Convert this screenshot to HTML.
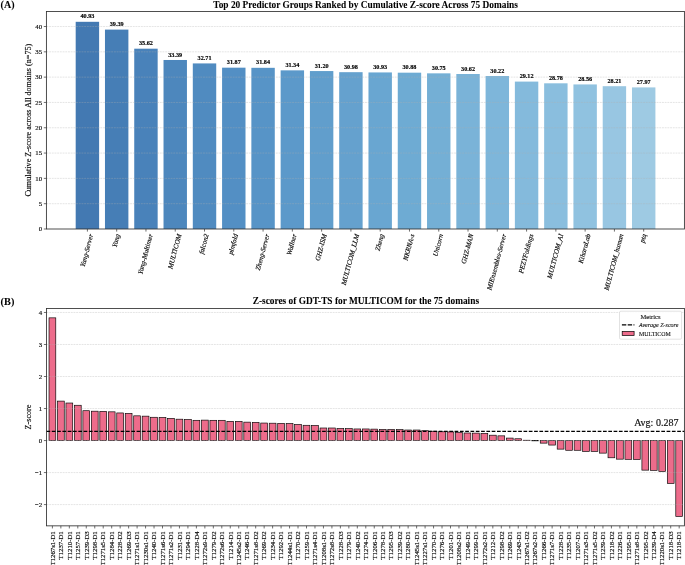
<!DOCTYPE html>
<html lang="en"><head><meta charset="utf-8"><title>Predictor Z-scores</title>
<style>html,body{margin:0;padding:0;background:#fff;}body{width:685px;height:565px;overflow:hidden;font-family:"Liberation Serif", serif;}svg{display:block;}</style>
</head><body>
<svg width="685" height="565" viewBox="0 0 685 565" font-family='"Liberation Serif", serif' fill="#000">
<rect width="685" height="565" fill="#fff"/>
<style>text{stroke:#000;stroke-width:0.16px;stroke-linejoin:round;paint-order:stroke fill}text.b{stroke-width:0.05px}text.l{stroke-width:0.1px}</style>
<g id="chartA">
<rect x="75.69" y="21.81" width="23.42" height="207.19" fill="#4379b2"/>
<rect x="104.97" y="29.61" width="23.42" height="199.39" fill="#467eb6"/>
<rect x="134.24" y="48.69" width="23.42" height="180.31" fill="#4982ba"/>
<rect x="163.52" y="59.98" width="23.42" height="169.02" fill="#4d87bd"/>
<rect x="192.80" y="63.42" width="23.42" height="165.58" fill="#508bc0"/>
<rect x="222.08" y="67.67" width="23.42" height="161.33" fill="#538fc4"/>
<rect x="251.36" y="67.82" width="23.42" height="161.18" fill="#5794c7"/>
<rect x="280.64" y="70.35" width="23.42" height="158.65" fill="#5c99ca"/>
<rect x="309.92" y="71.06" width="23.42" height="157.94" fill="#619ecc"/>
<rect x="339.20" y="72.18" width="23.42" height="156.82" fill="#65a1ce"/>
<rect x="368.48" y="72.43" width="23.42" height="156.57" fill="#69a6d1"/>
<rect x="397.76" y="72.68" width="23.42" height="156.32" fill="#6eabd3"/>
<rect x="427.04" y="73.34" width="23.42" height="155.66" fill="#74afd5"/>
<rect x="456.32" y="74.00" width="23.42" height="155.00" fill="#7ab3d8"/>
<rect x="485.59" y="76.02" width="23.42" height="152.98" fill="#7eb6da"/>
<rect x="514.87" y="81.59" width="23.42" height="147.41" fill="#84badc"/>
<rect x="544.15" y="83.31" width="23.42" height="145.69" fill="#8abede"/>
<rect x="573.43" y="84.43" width="23.42" height="144.57" fill="#90c2e0"/>
<rect x="602.71" y="86.20" width="23.42" height="142.80" fill="#98c6e2"/>
<rect x="631.99" y="87.41" width="23.42" height="141.59" fill="#9ecae3"/>
<line x1="46.4" x2="684.4" y1="203.69" y2="203.69" stroke="#b0b0b0" stroke-opacity="0.66" stroke-width="0.5" stroke-dasharray="1.9 0.8"/>
<line x1="46.4" x2="684.4" y1="178.38" y2="178.38" stroke="#b0b0b0" stroke-opacity="0.66" stroke-width="0.5" stroke-dasharray="1.9 0.8"/>
<line x1="46.4" x2="684.4" y1="153.07" y2="153.07" stroke="#b0b0b0" stroke-opacity="0.66" stroke-width="0.5" stroke-dasharray="1.9 0.8"/>
<line x1="46.4" x2="684.4" y1="127.76" y2="127.76" stroke="#b0b0b0" stroke-opacity="0.66" stroke-width="0.5" stroke-dasharray="1.9 0.8"/>
<line x1="46.4" x2="684.4" y1="102.45" y2="102.45" stroke="#b0b0b0" stroke-opacity="0.66" stroke-width="0.5" stroke-dasharray="1.9 0.8"/>
<line x1="46.4" x2="684.4" y1="77.14" y2="77.14" stroke="#b0b0b0" stroke-opacity="0.66" stroke-width="0.5" stroke-dasharray="1.9 0.8"/>
<line x1="46.4" x2="684.4" y1="51.83" y2="51.83" stroke="#b0b0b0" stroke-opacity="0.66" stroke-width="0.5" stroke-dasharray="1.9 0.8"/>
<line x1="46.4" x2="684.4" y1="26.52" y2="26.52" stroke="#b0b0b0" stroke-opacity="0.66" stroke-width="0.5" stroke-dasharray="1.9 0.8"/>
<text x="87.40" y="18.41" font-size="6.2" font-weight="bold" text-anchor="middle">40.93</text>
<text x="116.68" y="26.21" font-size="6.2" font-weight="bold" text-anchor="middle">39.39</text>
<text x="145.96" y="45.29" font-size="6.2" font-weight="bold" text-anchor="middle">35.62</text>
<text x="175.24" y="56.58" font-size="6.2" font-weight="bold" text-anchor="middle">33.39</text>
<text x="204.51" y="60.02" font-size="6.2" font-weight="bold" text-anchor="middle">32.71</text>
<text x="233.79" y="64.27" font-size="6.2" font-weight="bold" text-anchor="middle">31.87</text>
<text x="263.07" y="64.42" font-size="6.2" font-weight="bold" text-anchor="middle">31.84</text>
<text x="292.35" y="66.95" font-size="6.2" font-weight="bold" text-anchor="middle">31.34</text>
<text x="321.63" y="67.66" font-size="6.2" font-weight="bold" text-anchor="middle">31.20</text>
<text x="350.91" y="68.78" font-size="6.2" font-weight="bold" text-anchor="middle">30.98</text>
<text x="380.19" y="69.03" font-size="6.2" font-weight="bold" text-anchor="middle">30.93</text>
<text x="409.47" y="69.28" font-size="6.2" font-weight="bold" text-anchor="middle">30.88</text>
<text x="438.75" y="69.94" font-size="6.2" font-weight="bold" text-anchor="middle">30.75</text>
<text x="468.03" y="70.60" font-size="6.2" font-weight="bold" text-anchor="middle">30.62</text>
<text x="497.31" y="72.62" font-size="6.2" font-weight="bold" text-anchor="middle">30.22</text>
<text x="526.59" y="78.19" font-size="6.2" font-weight="bold" text-anchor="middle">29.12</text>
<text x="555.86" y="79.91" font-size="6.2" font-weight="bold" text-anchor="middle">28.78</text>
<text x="585.14" y="81.03" font-size="6.2" font-weight="bold" text-anchor="middle">28.56</text>
<text x="614.42" y="82.80" font-size="6.2" font-weight="bold" text-anchor="middle">28.21</text>
<text x="643.70" y="84.01" font-size="6.2" font-weight="bold" text-anchor="middle">27.97</text>
<rect x="46.4" y="11.45" width="638.00" height="217.55" fill="none" stroke="#303030" stroke-width="0.85"/>
<line x1="43.80" x2="46.4" y1="229.00" y2="229.00" stroke="#303030" stroke-width="0.7"/>
<text x="42.10" y="231.20" font-size="6.8" text-anchor="end" fill="#0d0d0d">0</text>
<line x1="43.80" x2="46.4" y1="203.69" y2="203.69" stroke="#303030" stroke-width="0.7"/>
<text x="42.10" y="205.89" font-size="6.8" text-anchor="end" fill="#0d0d0d">5</text>
<line x1="43.80" x2="46.4" y1="178.38" y2="178.38" stroke="#303030" stroke-width="0.7"/>
<text x="42.10" y="180.58" font-size="6.8" text-anchor="end" fill="#0d0d0d">10</text>
<line x1="43.80" x2="46.4" y1="153.07" y2="153.07" stroke="#303030" stroke-width="0.7"/>
<text x="42.10" y="155.27" font-size="6.8" text-anchor="end" fill="#0d0d0d">15</text>
<line x1="43.80" x2="46.4" y1="127.76" y2="127.76" stroke="#303030" stroke-width="0.7"/>
<text x="42.10" y="129.96" font-size="6.8" text-anchor="end" fill="#0d0d0d">20</text>
<line x1="43.80" x2="46.4" y1="102.45" y2="102.45" stroke="#303030" stroke-width="0.7"/>
<text x="42.10" y="104.65" font-size="6.8" text-anchor="end" fill="#0d0d0d">25</text>
<line x1="43.80" x2="46.4" y1="77.14" y2="77.14" stroke="#303030" stroke-width="0.7"/>
<text x="42.10" y="79.34" font-size="6.8" text-anchor="end" fill="#0d0d0d">30</text>
<line x1="43.80" x2="46.4" y1="51.83" y2="51.83" stroke="#303030" stroke-width="0.7"/>
<text x="42.10" y="54.03" font-size="6.8" text-anchor="end" fill="#0d0d0d">35</text>
<line x1="43.80" x2="46.4" y1="26.52" y2="26.52" stroke="#303030" stroke-width="0.7"/>
<text x="42.10" y="28.72" font-size="6.8" text-anchor="end" fill="#0d0d0d">40</text>
<line x1="87.40" x2="87.40" y1="229.0" y2="231.6" stroke="#303030" stroke-width="0.7"/>
<text transform="translate(87.40,250.56) rotate(-75)" y="1.59" font-size="6.9" font-style="italic" text-anchor="middle" fill="#0d0d0d">Yang-Server</text>
<line x1="116.68" x2="116.68" y1="229.0" y2="231.6" stroke="#303030" stroke-width="0.7"/>
<text transform="translate(116.68,240.75) rotate(-75)" y="1.59" font-size="6.9" font-style="italic" text-anchor="middle" fill="#0d0d0d">Yang</text>
<line x1="145.96" x2="145.96" y1="229.0" y2="231.6" stroke="#303030" stroke-width="0.7"/>
<text transform="translate(145.96,254.26) rotate(-75)" y="1.59" font-size="6.9" font-style="italic" text-anchor="middle" fill="#0d0d0d">Yang-Multimer</text>
<line x1="175.24" x2="175.24" y1="229.0" y2="231.6" stroke="#303030" stroke-width="0.7"/>
<text transform="translate(175.24,251.54) rotate(-75)" y="1.59" font-size="6.9" font-style="italic" text-anchor="middle" fill="#0d0d0d">MULTICOM</text>
<line x1="204.51" x2="204.51" y1="229.0" y2="231.6" stroke="#303030" stroke-width="0.7"/>
<text transform="translate(204.51,244.20) rotate(-75)" y="1.59" font-size="6.9" font-style="italic" text-anchor="middle" fill="#0d0d0d">falcon2</text>
<line x1="233.79" x2="233.79" y1="229.0" y2="231.6" stroke="#303030" stroke-width="0.7"/>
<text transform="translate(233.79,244.39) rotate(-75)" y="1.59" font-size="6.9" font-style="italic" text-anchor="middle" fill="#0d0d0d">plmfold</text>
<line x1="263.07" x2="263.07" y1="229.0" y2="231.6" stroke="#303030" stroke-width="0.7"/>
<text transform="translate(263.07,252.34) rotate(-75)" y="1.59" font-size="6.9" font-style="italic" text-anchor="middle" fill="#0d0d0d">Zheng-Server</text>
<line x1="292.35" x2="292.35" y1="229.0" y2="231.6" stroke="#303030" stroke-width="0.7"/>
<text transform="translate(292.35,244.63) rotate(-75)" y="1.59" font-size="6.9" font-style="italic" text-anchor="middle" fill="#0d0d0d">Wallner</text>
<line x1="321.63" x2="321.63" y1="229.0" y2="231.6" stroke="#303030" stroke-width="0.7"/>
<text transform="translate(321.63,247.53) rotate(-75)" y="1.59" font-size="6.9" font-style="italic" text-anchor="middle" fill="#0d0d0d">GHZ-ISM</text>
<line x1="350.91" x2="350.91" y1="229.0" y2="231.6" stroke="#303030" stroke-width="0.7"/>
<text transform="translate(350.91,259.69) rotate(-75)" y="1.59" font-size="6.9" font-style="italic" text-anchor="middle" fill="#0d0d0d">MULTICOM_LLM</text>
<line x1="380.19" x2="380.19" y1="229.0" y2="231.6" stroke="#303030" stroke-width="0.7"/>
<text transform="translate(380.19,242.53) rotate(-75)" y="1.59" font-size="6.9" font-style="italic" text-anchor="middle" fill="#0d0d0d">Zheng</text>
<line x1="409.47" x2="409.47" y1="229.0" y2="231.6" stroke="#303030" stroke-width="0.7"/>
<text transform="translate(409.47,247.35) rotate(-75)" y="1.59" font-size="6.9" font-style="italic" text-anchor="middle" fill="#0d0d0d">NKRNA-s</text>
<line x1="438.75" x2="438.75" y1="229.0" y2="231.6" stroke="#303030" stroke-width="0.7"/>
<text transform="translate(438.75,245.31) rotate(-75)" y="1.59" font-size="6.9" font-style="italic" text-anchor="middle" fill="#0d0d0d">Unicorn</text>
<line x1="468.03" x2="468.03" y1="229.0" y2="231.6" stroke="#303030" stroke-width="0.7"/>
<text transform="translate(468.03,249.01) rotate(-75)" y="1.59" font-size="6.9" font-style="italic" text-anchor="middle" fill="#0d0d0d">GHZ-MAN</text>
<line x1="497.31" x2="497.31" y1="229.0" y2="231.6" stroke="#303030" stroke-width="0.7"/>
<text transform="translate(497.31,262.15) rotate(-75)" y="1.59" font-size="6.9" font-style="italic" text-anchor="middle" fill="#0d0d0d">MIEnsembles-Server</text>
<line x1="526.59" x2="526.59" y1="229.0" y2="231.6" stroke="#303030" stroke-width="0.7"/>
<text transform="translate(526.59,253.83) rotate(-75)" y="1.59" font-size="6.9" font-style="italic" text-anchor="middle" fill="#0d0d0d">PEZYFoldings</text>
<line x1="555.86" x2="555.86" y1="229.0" y2="231.6" stroke="#303030" stroke-width="0.7"/>
<text transform="translate(555.86,256.35) rotate(-75)" y="1.59" font-size="6.9" font-style="italic" text-anchor="middle" fill="#0d0d0d">MULTICOM_AI</text>
<line x1="585.14" x2="585.14" y1="229.0" y2="231.6" stroke="#303030" stroke-width="0.7"/>
<text transform="translate(585.14,248.83) rotate(-75)" y="1.59" font-size="6.9" font-style="italic" text-anchor="middle" fill="#0d0d0d">KiharaLab</text>
<line x1="614.42" x2="614.42" y1="229.0" y2="231.6" stroke="#303030" stroke-width="0.7"/>
<text transform="translate(614.42,262.28) rotate(-75)" y="1.59" font-size="6.9" font-style="italic" text-anchor="middle" fill="#0d0d0d">MULTICOM_human</text>
<line x1="643.70" x2="643.70" y1="229.0" y2="231.6" stroke="#303030" stroke-width="0.7"/>
<text transform="translate(643.70,238.46) rotate(-75)" y="1.59" font-size="6.9" font-style="italic" text-anchor="middle" fill="#0d0d0d">ptq</text>
<text transform="translate(30.9,120.2) rotate(-90)" font-size="8.15" text-anchor="middle" fill="#0d0d0d">Cumulative Z-score across All domains (n=75)</text>
<text class="b" x="365.6" y="7.7" font-size="9.37" font-weight="bold" text-anchor="middle">Top 20 Predictor Groups Ranked by Cumulative Z-score Across 75 Domains</text>
<text class="b" x="0.6" y="7.6" font-size="10" font-weight="bold">(A)</text>
</g>
<g id="chartB">
<rect x="49.01" y="317.85" width="6.78" height="122.70" fill="#ed6c8b" stroke="#000" stroke-width="0.65"/>
<rect x="57.48" y="401.10" width="6.78" height="39.45" fill="#ed6c8b" stroke="#000" stroke-width="0.65"/>
<rect x="65.95" y="403.02" width="6.78" height="37.53" fill="#ed6c8b" stroke="#000" stroke-width="0.65"/>
<rect x="74.42" y="405.26" width="6.78" height="35.29" fill="#ed6c8b" stroke="#000" stroke-width="0.65"/>
<rect x="82.89" y="410.71" width="6.78" height="29.84" fill="#ed6c8b" stroke="#000" stroke-width="0.65"/>
<rect x="91.36" y="411.19" width="6.78" height="29.36" fill="#ed6c8b" stroke="#000" stroke-width="0.65"/>
<rect x="99.83" y="411.35" width="6.78" height="29.20" fill="#ed6c8b" stroke="#000" stroke-width="0.65"/>
<rect x="108.30" y="411.83" width="6.78" height="28.72" fill="#ed6c8b" stroke="#000" stroke-width="0.65"/>
<rect x="116.77" y="412.95" width="6.78" height="27.60" fill="#ed6c8b" stroke="#000" stroke-width="0.65"/>
<rect x="125.24" y="413.43" width="6.78" height="27.12" fill="#ed6c8b" stroke="#000" stroke-width="0.65"/>
<rect x="133.71" y="415.83" width="6.78" height="24.72" fill="#ed6c8b" stroke="#000" stroke-width="0.65"/>
<rect x="142.18" y="416.15" width="6.78" height="24.40" fill="#ed6c8b" stroke="#000" stroke-width="0.65"/>
<rect x="150.65" y="417.27" width="6.78" height="23.28" fill="#ed6c8b" stroke="#000" stroke-width="0.65"/>
<rect x="159.12" y="417.43" width="6.78" height="23.12" fill="#ed6c8b" stroke="#000" stroke-width="0.65"/>
<rect x="167.59" y="418.39" width="6.78" height="22.16" fill="#ed6c8b" stroke="#000" stroke-width="0.65"/>
<rect x="176.06" y="419.19" width="6.78" height="21.36" fill="#ed6c8b" stroke="#000" stroke-width="0.65"/>
<rect x="184.53" y="419.51" width="6.78" height="21.04" fill="#ed6c8b" stroke="#000" stroke-width="0.65"/>
<rect x="193.00" y="420.31" width="6.78" height="20.24" fill="#ed6c8b" stroke="#000" stroke-width="0.65"/>
<rect x="201.47" y="420.12" width="6.78" height="20.43" fill="#ed6c8b" stroke="#000" stroke-width="0.65"/>
<rect x="209.94" y="420.31" width="6.78" height="20.24" fill="#ed6c8b" stroke="#000" stroke-width="0.65"/>
<rect x="218.41" y="420.31" width="6.78" height="20.24" fill="#ed6c8b" stroke="#000" stroke-width="0.65"/>
<rect x="226.88" y="421.34" width="6.78" height="19.21" fill="#ed6c8b" stroke="#000" stroke-width="0.65"/>
<rect x="235.35" y="421.34" width="6.78" height="19.21" fill="#ed6c8b" stroke="#000" stroke-width="0.65"/>
<rect x="243.82" y="422.14" width="6.78" height="18.41" fill="#ed6c8b" stroke="#000" stroke-width="0.65"/>
<rect x="252.29" y="422.33" width="6.78" height="18.22" fill="#ed6c8b" stroke="#000" stroke-width="0.65"/>
<rect x="260.76" y="423.04" width="6.78" height="17.51" fill="#ed6c8b" stroke="#000" stroke-width="0.65"/>
<rect x="269.23" y="423.20" width="6.78" height="17.35" fill="#ed6c8b" stroke="#000" stroke-width="0.65"/>
<rect x="277.70" y="423.36" width="6.78" height="17.19" fill="#ed6c8b" stroke="#000" stroke-width="0.65"/>
<rect x="286.17" y="423.52" width="6.78" height="17.03" fill="#ed6c8b" stroke="#000" stroke-width="0.65"/>
<rect x="294.64" y="424.48" width="6.78" height="16.07" fill="#ed6c8b" stroke="#000" stroke-width="0.65"/>
<rect x="303.11" y="425.28" width="6.78" height="15.27" fill="#ed6c8b" stroke="#000" stroke-width="0.65"/>
<rect x="311.58" y="425.44" width="6.78" height="15.11" fill="#ed6c8b" stroke="#000" stroke-width="0.65"/>
<rect x="320.05" y="428.00" width="6.78" height="12.55" fill="#ed6c8b" stroke="#000" stroke-width="0.65"/>
<rect x="328.52" y="428.00" width="6.78" height="12.55" fill="#ed6c8b" stroke="#000" stroke-width="0.65"/>
<rect x="336.99" y="428.48" width="6.78" height="12.07" fill="#ed6c8b" stroke="#000" stroke-width="0.65"/>
<rect x="345.46" y="428.64" width="6.78" height="11.91" fill="#ed6c8b" stroke="#000" stroke-width="0.65"/>
<rect x="353.93" y="428.96" width="6.78" height="11.59" fill="#ed6c8b" stroke="#000" stroke-width="0.65"/>
<rect x="362.40" y="428.96" width="6.78" height="11.59" fill="#ed6c8b" stroke="#000" stroke-width="0.65"/>
<rect x="370.87" y="429.12" width="6.78" height="11.43" fill="#ed6c8b" stroke="#000" stroke-width="0.65"/>
<rect x="379.34" y="429.47" width="6.78" height="11.08" fill="#ed6c8b" stroke="#000" stroke-width="0.65"/>
<rect x="387.81" y="429.50" width="6.78" height="11.05" fill="#ed6c8b" stroke="#000" stroke-width="0.65"/>
<rect x="396.28" y="429.66" width="6.78" height="10.89" fill="#ed6c8b" stroke="#000" stroke-width="0.65"/>
<rect x="404.75" y="430.02" width="6.78" height="10.53" fill="#ed6c8b" stroke="#000" stroke-width="0.65"/>
<rect x="413.22" y="430.02" width="6.78" height="10.53" fill="#ed6c8b" stroke="#000" stroke-width="0.65"/>
<rect x="421.69" y="430.72" width="6.78" height="9.83" fill="#ed6c8b" stroke="#000" stroke-width="0.65"/>
<rect x="430.16" y="431.20" width="6.78" height="9.35" fill="#ed6c8b" stroke="#000" stroke-width="0.65"/>
<rect x="438.63" y="431.78" width="6.78" height="8.77" fill="#ed6c8b" stroke="#000" stroke-width="0.65"/>
<rect x="447.10" y="431.94" width="6.78" height="8.61" fill="#ed6c8b" stroke="#000" stroke-width="0.65"/>
<rect x="455.57" y="432.48" width="6.78" height="8.07" fill="#ed6c8b" stroke="#000" stroke-width="0.65"/>
<rect x="464.04" y="432.99" width="6.78" height="7.56" fill="#ed6c8b" stroke="#000" stroke-width="0.65"/>
<rect x="472.51" y="433.12" width="6.78" height="7.43" fill="#ed6c8b" stroke="#000" stroke-width="0.65"/>
<rect x="480.98" y="433.35" width="6.78" height="7.20" fill="#ed6c8b" stroke="#000" stroke-width="0.65"/>
<rect x="489.45" y="435.20" width="6.78" height="5.35" fill="#ed6c8b" stroke="#000" stroke-width="0.65"/>
<rect x="497.92" y="435.84" width="6.78" height="4.71" fill="#ed6c8b" stroke="#000" stroke-width="0.65"/>
<rect x="506.39" y="438.08" width="6.78" height="2.47" fill="#ed6c8b" stroke="#000" stroke-width="0.65"/>
<rect x="514.86" y="438.76" width="6.78" height="1.79" fill="#ed6c8b" stroke="#000" stroke-width="0.65"/>
<rect x="523.33" y="440.23" width="6.78" height="0.32" fill="#ed6c8b" stroke="#000" stroke-width="0.65"/>
<rect x="531.80" y="440.55" width="6.78" height="0.30" fill="#ed6c8b" stroke="#000" stroke-width="0.65"/>
<rect x="540.27" y="440.55" width="6.78" height="2.59" fill="#ed6c8b" stroke="#000" stroke-width="0.65"/>
<rect x="548.74" y="440.55" width="6.78" height="4.51" fill="#ed6c8b" stroke="#000" stroke-width="0.65"/>
<rect x="557.21" y="440.55" width="6.78" height="8.58" fill="#ed6c8b" stroke="#000" stroke-width="0.65"/>
<rect x="565.68" y="440.55" width="6.78" height="9.73" fill="#ed6c8b" stroke="#000" stroke-width="0.65"/>
<rect x="574.15" y="440.55" width="6.78" height="9.73" fill="#ed6c8b" stroke="#000" stroke-width="0.65"/>
<rect x="582.62" y="440.55" width="6.78" height="10.89" fill="#ed6c8b" stroke="#000" stroke-width="0.65"/>
<rect x="591.09" y="440.55" width="6.78" height="10.89" fill="#ed6c8b" stroke="#000" stroke-width="0.65"/>
<rect x="599.56" y="440.55" width="6.78" height="12.58" fill="#ed6c8b" stroke="#000" stroke-width="0.65"/>
<rect x="608.03" y="440.55" width="6.78" height="17.23" fill="#ed6c8b" stroke="#000" stroke-width="0.65"/>
<rect x="616.50" y="440.55" width="6.78" height="18.60" fill="#ed6c8b" stroke="#000" stroke-width="0.65"/>
<rect x="624.97" y="440.55" width="6.78" height="18.76" fill="#ed6c8b" stroke="#000" stroke-width="0.65"/>
<rect x="633.44" y="440.55" width="6.78" height="18.96" fill="#ed6c8b" stroke="#000" stroke-width="0.65"/>
<rect x="641.91" y="440.55" width="6.78" height="29.59" fill="#ed6c8b" stroke="#000" stroke-width="0.65"/>
<rect x="650.38" y="440.55" width="6.78" height="29.78" fill="#ed6c8b" stroke="#000" stroke-width="0.65"/>
<rect x="658.85" y="440.55" width="6.78" height="30.84" fill="#ed6c8b" stroke="#000" stroke-width="0.65"/>
<rect x="667.32" y="440.55" width="6.78" height="42.91" fill="#ed6c8b" stroke="#000" stroke-width="0.65"/>
<rect x="675.79" y="440.55" width="6.78" height="75.89" fill="#ed6c8b" stroke="#000" stroke-width="0.65"/>
<line x1="46.5" x2="684.4" y1="504.59" y2="504.59" stroke="#b0b0b0" stroke-opacity="0.66" stroke-width="0.5" stroke-dasharray="1.9 0.8"/>
<line x1="46.5" x2="684.4" y1="472.57" y2="472.57" stroke="#b0b0b0" stroke-opacity="0.66" stroke-width="0.5" stroke-dasharray="1.9 0.8"/>
<line x1="46.5" x2="684.4" y1="440.55" y2="440.55" stroke="#b0b0b0" stroke-opacity="0.66" stroke-width="0.5" stroke-dasharray="1.9 0.8"/>
<line x1="46.5" x2="684.4" y1="408.53" y2="408.53" stroke="#b0b0b0" stroke-opacity="0.66" stroke-width="0.5" stroke-dasharray="1.9 0.8"/>
<line x1="46.5" x2="684.4" y1="376.51" y2="376.51" stroke="#b0b0b0" stroke-opacity="0.66" stroke-width="0.5" stroke-dasharray="1.9 0.8"/>
<line x1="46.5" x2="684.4" y1="344.49" y2="344.49" stroke="#b0b0b0" stroke-opacity="0.66" stroke-width="0.5" stroke-dasharray="1.9 0.8"/>
<line x1="46.5" x2="684.4" y1="312.47" y2="312.47" stroke="#b0b0b0" stroke-opacity="0.66" stroke-width="0.5" stroke-dasharray="1.9 0.8"/>
<line x1="46.5" x2="684.4" y1="431.36" y2="431.36" stroke="#000" stroke-width="1.15" stroke-dasharray="3.7 1.6"/>
<text x="678.4" y="425.9" font-size="10" text-anchor="end" fill="#111">Avg: 0.287</text>
<rect x="46.5" y="308.45" width="637.90" height="217.40" fill="none" stroke="#303030" stroke-width="0.85"/>
<line x1="43.90" x2="46.5" y1="504.59" y2="504.59" stroke="#303030" stroke-width="0.7"/>
<text x="42.20" y="506.79" font-size="6.8" text-anchor="end" fill="#0d0d0d">−2</text>
<line x1="43.90" x2="46.5" y1="472.57" y2="472.57" stroke="#303030" stroke-width="0.7"/>
<text x="42.20" y="474.77" font-size="6.8" text-anchor="end" fill="#0d0d0d">−1</text>
<line x1="43.90" x2="46.5" y1="440.55" y2="440.55" stroke="#303030" stroke-width="0.7"/>
<text x="42.20" y="442.75" font-size="6.8" text-anchor="end" fill="#0d0d0d">0</text>
<line x1="43.90" x2="46.5" y1="408.53" y2="408.53" stroke="#303030" stroke-width="0.7"/>
<text x="42.20" y="410.73" font-size="6.8" text-anchor="end" fill="#0d0d0d">1</text>
<line x1="43.90" x2="46.5" y1="376.51" y2="376.51" stroke="#303030" stroke-width="0.7"/>
<text x="42.20" y="378.71" font-size="6.8" text-anchor="end" fill="#0d0d0d">2</text>
<line x1="43.90" x2="46.5" y1="344.49" y2="344.49" stroke="#303030" stroke-width="0.7"/>
<text x="42.20" y="346.69" font-size="6.8" text-anchor="end" fill="#0d0d0d">3</text>
<line x1="43.90" x2="46.5" y1="312.47" y2="312.47" stroke="#303030" stroke-width="0.7"/>
<text x="42.20" y="314.67" font-size="6.8" text-anchor="end" fill="#0d0d0d">4</text>
<line x1="52.40" x2="52.40" y1="525.85" y2="528.45" stroke="#303030" stroke-width="0.7"/>
<text transform="translate(54.65,531.3) rotate(-90)" font-size="6.75" text-anchor="end" fill="#0d0d0d">T1267s1-D1</text>
<line x1="60.87" x2="60.87" y1="525.85" y2="528.45" stroke="#303030" stroke-width="0.7"/>
<text transform="translate(63.12,531.3) rotate(-90)" font-size="6.75" text-anchor="end" fill="#0d0d0d">T1237-D1</text>
<line x1="69.34" x2="69.34" y1="525.85" y2="528.45" stroke="#303030" stroke-width="0.7"/>
<text transform="translate(71.59,531.3) rotate(-90)" font-size="6.75" text-anchor="end" fill="#0d0d0d">T1210-D1</text>
<line x1="77.81" x2="77.81" y1="525.85" y2="528.45" stroke="#303030" stroke-width="0.7"/>
<text transform="translate(80.06,531.3) rotate(-90)" font-size="6.75" text-anchor="end" fill="#0d0d0d">T1257-D1</text>
<line x1="86.28" x2="86.28" y1="525.85" y2="528.45" stroke="#303030" stroke-width="0.7"/>
<text transform="translate(88.53,531.3) rotate(-90)" font-size="6.75" text-anchor="end" fill="#0d0d0d">T1239-D3</text>
<line x1="94.75" x2="94.75" y1="525.85" y2="528.45" stroke="#303030" stroke-width="0.7"/>
<text transform="translate(97.00,531.3) rotate(-90)" font-size="6.75" text-anchor="end" fill="#0d0d0d">T1298-D1</text>
<line x1="103.22" x2="103.22" y1="525.85" y2="528.45" stroke="#303030" stroke-width="0.7"/>
<text transform="translate(105.47,531.3) rotate(-90)" font-size="6.75" text-anchor="end" fill="#0d0d0d">T1271s5-D1</text>
<line x1="111.69" x2="111.69" y1="525.85" y2="528.45" stroke="#303030" stroke-width="0.7"/>
<text transform="translate(113.94,531.3) rotate(-90)" font-size="6.75" text-anchor="end" fill="#0d0d0d">T1284-D1</text>
<line x1="120.16" x2="120.16" y1="525.85" y2="528.45" stroke="#303030" stroke-width="0.7"/>
<text transform="translate(122.41,531.3) rotate(-90)" font-size="6.75" text-anchor="end" fill="#0d0d0d">T1228-D2</text>
<line x1="128.63" x2="128.63" y1="525.85" y2="528.45" stroke="#303030" stroke-width="0.7"/>
<text transform="translate(130.88,531.3) rotate(-90)" font-size="6.75" text-anchor="end" fill="#0d0d0d">T1269-D3</text>
<line x1="137.10" x2="137.10" y1="525.85" y2="528.45" stroke="#303030" stroke-width="0.7"/>
<text transform="translate(139.35,531.3) rotate(-90)" font-size="6.75" text-anchor="end" fill="#0d0d0d">T1271s1-D1</text>
<line x1="145.57" x2="145.57" y1="525.85" y2="528.45" stroke="#303030" stroke-width="0.7"/>
<text transform="translate(147.82,531.3) rotate(-90)" font-size="6.75" text-anchor="end" fill="#0d0d0d">T1230s1-D1</text>
<line x1="154.04" x2="154.04" y1="525.85" y2="528.45" stroke="#303030" stroke-width="0.7"/>
<text transform="translate(156.29,531.3) rotate(-90)" font-size="6.75" text-anchor="end" fill="#0d0d0d">T1240-D1</text>
<line x1="162.51" x2="162.51" y1="525.85" y2="528.45" stroke="#303030" stroke-width="0.7"/>
<text transform="translate(164.76,531.3) rotate(-90)" font-size="6.75" text-anchor="end" fill="#0d0d0d">T1271s6-D1</text>
<line x1="170.98" x2="170.98" y1="525.85" y2="528.45" stroke="#303030" stroke-width="0.7"/>
<text transform="translate(173.23,531.3) rotate(-90)" font-size="6.75" text-anchor="end" fill="#0d0d0d">T1271s2-D1</text>
<line x1="179.45" x2="179.45" y1="525.85" y2="528.45" stroke="#303030" stroke-width="0.7"/>
<text transform="translate(181.70,531.3) rotate(-90)" font-size="6.75" text-anchor="end" fill="#0d0d0d">T1231-D1</text>
<line x1="187.92" x2="187.92" y1="525.85" y2="528.45" stroke="#303030" stroke-width="0.7"/>
<text transform="translate(190.17,531.3) rotate(-90)" font-size="6.75" text-anchor="end" fill="#0d0d0d">T1294-D1</text>
<line x1="196.39" x2="196.39" y1="525.85" y2="528.45" stroke="#303030" stroke-width="0.7"/>
<text transform="translate(198.64,531.3) rotate(-90)" font-size="6.75" text-anchor="end" fill="#0d0d0d">T1228-D4</text>
<line x1="204.86" x2="204.86" y1="525.85" y2="528.45" stroke="#303030" stroke-width="0.7"/>
<text transform="translate(207.11,531.3) rotate(-90)" font-size="6.75" text-anchor="end" fill="#0d0d0d">T1272s9-D1</text>
<line x1="213.33" x2="213.33" y1="525.85" y2="528.45" stroke="#303030" stroke-width="0.7"/>
<text transform="translate(215.58,531.3) rotate(-90)" font-size="6.75" text-anchor="end" fill="#0d0d0d">T1279-D2</text>
<line x1="221.80" x2="221.80" y1="525.85" y2="528.45" stroke="#303030" stroke-width="0.7"/>
<text transform="translate(224.05,531.3) rotate(-90)" font-size="6.75" text-anchor="end" fill="#0d0d0d">T1272s6-D1</text>
<line x1="230.27" x2="230.27" y1="525.85" y2="528.45" stroke="#303030" stroke-width="0.7"/>
<text transform="translate(232.52,531.3) rotate(-90)" font-size="6.75" text-anchor="end" fill="#0d0d0d">T1214-D1</text>
<line x1="238.74" x2="238.74" y1="525.85" y2="528.45" stroke="#303030" stroke-width="0.7"/>
<text transform="translate(240.99,531.3) rotate(-90)" font-size="6.75" text-anchor="end" fill="#0d0d0d">T1245s2-D1</text>
<line x1="247.21" x2="247.21" y1="525.85" y2="528.45" stroke="#303030" stroke-width="0.7"/>
<text transform="translate(249.46,531.3) rotate(-90)" font-size="6.75" text-anchor="end" fill="#0d0d0d">T1246-D1</text>
<line x1="255.68" x2="255.68" y1="525.85" y2="528.45" stroke="#303030" stroke-width="0.7"/>
<text transform="translate(257.93,531.3) rotate(-90)" font-size="6.75" text-anchor="end" fill="#0d0d0d">T1271s8-D2</text>
<line x1="264.15" x2="264.15" y1="525.85" y2="528.45" stroke="#303030" stroke-width="0.7"/>
<text transform="translate(266.40,531.3) rotate(-90)" font-size="6.75" text-anchor="end" fill="#0d0d0d">T1269-D2</text>
<line x1="272.62" x2="272.62" y1="525.85" y2="528.45" stroke="#303030" stroke-width="0.7"/>
<text transform="translate(274.87,531.3) rotate(-90)" font-size="6.75" text-anchor="end" fill="#0d0d0d">T1234-D1</text>
<line x1="281.09" x2="281.09" y1="525.85" y2="528.45" stroke="#303030" stroke-width="0.7"/>
<text transform="translate(283.34,531.3) rotate(-90)" font-size="6.75" text-anchor="end" fill="#0d0d0d">T1292-D1</text>
<line x1="289.56" x2="289.56" y1="525.85" y2="528.45" stroke="#303030" stroke-width="0.7"/>
<text transform="translate(291.81,531.3) rotate(-90)" font-size="6.75" text-anchor="end" fill="#0d0d0d">T1244s1-D1</text>
<line x1="298.03" x2="298.03" y1="525.85" y2="528.45" stroke="#303030" stroke-width="0.7"/>
<text transform="translate(300.28,531.3) rotate(-90)" font-size="6.75" text-anchor="end" fill="#0d0d0d">T1270-D2</text>
<line x1="306.50" x2="306.50" y1="525.85" y2="528.45" stroke="#303030" stroke-width="0.7"/>
<text transform="translate(308.75,531.3) rotate(-90)" font-size="6.75" text-anchor="end" fill="#0d0d0d">T1259-D1</text>
<line x1="314.97" x2="314.97" y1="525.85" y2="528.45" stroke="#303030" stroke-width="0.7"/>
<text transform="translate(317.22,531.3) rotate(-90)" font-size="6.75" text-anchor="end" fill="#0d0d0d">T1271s4-D1</text>
<line x1="323.44" x2="323.44" y1="525.85" y2="528.45" stroke="#303030" stroke-width="0.7"/>
<text transform="translate(325.69,531.3) rotate(-90)" font-size="6.75" text-anchor="end" fill="#0d0d0d">T1208s1-D1</text>
<line x1="331.91" x2="331.91" y1="525.85" y2="528.45" stroke="#303030" stroke-width="0.7"/>
<text transform="translate(334.16,531.3) rotate(-90)" font-size="6.75" text-anchor="end" fill="#0d0d0d">T1272s8-D1</text>
<line x1="340.38" x2="340.38" y1="525.85" y2="528.45" stroke="#303030" stroke-width="0.7"/>
<text transform="translate(342.63,531.3) rotate(-90)" font-size="6.75" text-anchor="end" fill="#0d0d0d">T1228-D3</text>
<line x1="348.85" x2="348.85" y1="525.85" y2="528.45" stroke="#303030" stroke-width="0.7"/>
<text transform="translate(351.10,531.3) rotate(-90)" font-size="6.75" text-anchor="end" fill="#0d0d0d">T1279-D1</text>
<line x1="357.32" x2="357.32" y1="525.85" y2="528.45" stroke="#303030" stroke-width="0.7"/>
<text transform="translate(359.57,531.3) rotate(-90)" font-size="6.75" text-anchor="end" fill="#0d0d0d">T1240-D2</text>
<line x1="365.79" x2="365.79" y1="525.85" y2="528.45" stroke="#303030" stroke-width="0.7"/>
<text transform="translate(368.04,531.3) rotate(-90)" font-size="6.75" text-anchor="end" fill="#0d0d0d">T1274-D1</text>
<line x1="374.26" x2="374.26" y1="525.85" y2="528.45" stroke="#303030" stroke-width="0.7"/>
<text transform="translate(376.51,531.3) rotate(-90)" font-size="6.75" text-anchor="end" fill="#0d0d0d">T1206-D1</text>
<line x1="382.73" x2="382.73" y1="525.85" y2="528.45" stroke="#303030" stroke-width="0.7"/>
<text transform="translate(384.98,531.3) rotate(-90)" font-size="6.75" text-anchor="end" fill="#0d0d0d">T1278-D1</text>
<line x1="391.20" x2="391.20" y1="525.85" y2="528.45" stroke="#303030" stroke-width="0.7"/>
<text transform="translate(393.45,531.3) rotate(-90)" font-size="6.75" text-anchor="end" fill="#0d0d0d">T1295-D3</text>
<line x1="399.67" x2="399.67" y1="525.85" y2="528.45" stroke="#303030" stroke-width="0.7"/>
<text transform="translate(401.92,531.3) rotate(-90)" font-size="6.75" text-anchor="end" fill="#0d0d0d">T1239-D2</text>
<line x1="408.14" x2="408.14" y1="525.85" y2="528.45" stroke="#303030" stroke-width="0.7"/>
<text transform="translate(410.39,531.3) rotate(-90)" font-size="6.75" text-anchor="end" fill="#0d0d0d">T1280-D1</text>
<line x1="416.61" x2="416.61" y1="525.85" y2="528.45" stroke="#303030" stroke-width="0.7"/>
<text transform="translate(418.86,531.3) rotate(-90)" font-size="6.75" text-anchor="end" fill="#0d0d0d">T1245s1-D1</text>
<line x1="425.08" x2="425.08" y1="525.85" y2="528.45" stroke="#303030" stroke-width="0.7"/>
<text transform="translate(427.33,531.3) rotate(-90)" font-size="6.75" text-anchor="end" fill="#0d0d0d">T1227s1-D1</text>
<line x1="433.55" x2="433.55" y1="525.85" y2="528.45" stroke="#303030" stroke-width="0.7"/>
<text transform="translate(435.80,531.3) rotate(-90)" font-size="6.75" text-anchor="end" fill="#0d0d0d">T1270-D1</text>
<line x1="442.02" x2="442.02" y1="525.85" y2="528.45" stroke="#303030" stroke-width="0.7"/>
<text transform="translate(444.27,531.3) rotate(-90)" font-size="6.75" text-anchor="end" fill="#0d0d0d">T1276-D1</text>
<line x1="450.49" x2="450.49" y1="525.85" y2="528.45" stroke="#303030" stroke-width="0.7"/>
<text transform="translate(452.74,531.3) rotate(-90)" font-size="6.75" text-anchor="end" fill="#0d0d0d">T1201-D1</text>
<line x1="458.96" x2="458.96" y1="525.85" y2="528.45" stroke="#303030" stroke-width="0.7"/>
<text transform="translate(461.21,531.3) rotate(-90)" font-size="6.75" text-anchor="end" fill="#0d0d0d">T1208s2-D1</text>
<line x1="467.43" x2="467.43" y1="525.85" y2="528.45" stroke="#303030" stroke-width="0.7"/>
<text transform="translate(469.68,531.3) rotate(-90)" font-size="6.75" text-anchor="end" fill="#0d0d0d">T1249-D1</text>
<line x1="475.90" x2="475.90" y1="525.85" y2="528.45" stroke="#303030" stroke-width="0.7"/>
<text transform="translate(478.15,531.3) rotate(-90)" font-size="6.75" text-anchor="end" fill="#0d0d0d">T1299-D1</text>
<line x1="484.37" x2="484.37" y1="525.85" y2="528.45" stroke="#303030" stroke-width="0.7"/>
<text transform="translate(486.62,531.3) rotate(-90)" font-size="6.75" text-anchor="end" fill="#0d0d0d">T1272s2-D1</text>
<line x1="492.84" x2="492.84" y1="525.85" y2="528.45" stroke="#303030" stroke-width="0.7"/>
<text transform="translate(495.09,531.3) rotate(-90)" font-size="6.75" text-anchor="end" fill="#0d0d0d">T1212-D1</text>
<line x1="501.31" x2="501.31" y1="525.85" y2="528.45" stroke="#303030" stroke-width="0.7"/>
<text transform="translate(503.56,531.3) rotate(-90)" font-size="6.75" text-anchor="end" fill="#0d0d0d">T1298-D2</text>
<line x1="509.78" x2="509.78" y1="525.85" y2="528.45" stroke="#303030" stroke-width="0.7"/>
<text transform="translate(512.03,531.3) rotate(-90)" font-size="6.75" text-anchor="end" fill="#0d0d0d">T1269-D1</text>
<line x1="518.25" x2="518.25" y1="525.85" y2="528.45" stroke="#303030" stroke-width="0.7"/>
<text transform="translate(520.50,531.3) rotate(-90)" font-size="6.75" text-anchor="end" fill="#0d0d0d">T1243-D1</text>
<line x1="526.72" x2="526.72" y1="525.85" y2="528.45" stroke="#303030" stroke-width="0.7"/>
<text transform="translate(528.97,531.3) rotate(-90)" font-size="6.75" text-anchor="end" fill="#0d0d0d">T1267s1-D2</text>
<line x1="535.19" x2="535.19" y1="525.85" y2="528.45" stroke="#303030" stroke-width="0.7"/>
<text transform="translate(537.44,531.3) rotate(-90)" font-size="6.75" text-anchor="end" fill="#0d0d0d">T1267s2-D1</text>
<line x1="543.66" x2="543.66" y1="525.85" y2="528.45" stroke="#303030" stroke-width="0.7"/>
<text transform="translate(545.91,531.3) rotate(-90)" font-size="6.75" text-anchor="end" fill="#0d0d0d">T1266-D1</text>
<line x1="552.13" x2="552.13" y1="525.85" y2="528.45" stroke="#303030" stroke-width="0.7"/>
<text transform="translate(554.38,531.3) rotate(-90)" font-size="6.75" text-anchor="end" fill="#0d0d0d">T1271s7-D1</text>
<line x1="560.60" x2="560.60" y1="525.85" y2="528.45" stroke="#303030" stroke-width="0.7"/>
<text transform="translate(562.85,531.3) rotate(-90)" font-size="6.75" text-anchor="end" fill="#0d0d0d">T1228-D1</text>
<line x1="569.07" x2="569.07" y1="525.85" y2="528.45" stroke="#303030" stroke-width="0.7"/>
<text transform="translate(571.32,531.3) rotate(-90)" font-size="6.75" text-anchor="end" fill="#0d0d0d">T1235-D1</text>
<line x1="577.54" x2="577.54" y1="525.85" y2="528.45" stroke="#303030" stroke-width="0.7"/>
<text transform="translate(579.79,531.3) rotate(-90)" font-size="6.75" text-anchor="end" fill="#0d0d0d">T1207-D1</text>
<line x1="586.01" x2="586.01" y1="525.85" y2="528.45" stroke="#303030" stroke-width="0.7"/>
<text transform="translate(588.26,531.3) rotate(-90)" font-size="6.75" text-anchor="end" fill="#0d0d0d">T1271s3-D1</text>
<line x1="594.48" x2="594.48" y1="525.85" y2="528.45" stroke="#303030" stroke-width="0.7"/>
<text transform="translate(596.73,531.3) rotate(-90)" font-size="6.75" text-anchor="end" fill="#0d0d0d">T1271s5-D2</text>
<line x1="602.95" x2="602.95" y1="525.85" y2="528.45" stroke="#303030" stroke-width="0.7"/>
<text transform="translate(605.20,531.3) rotate(-90)" font-size="6.75" text-anchor="end" fill="#0d0d0d">T1239-D1</text>
<line x1="611.42" x2="611.42" y1="525.85" y2="528.45" stroke="#303030" stroke-width="0.7"/>
<text transform="translate(613.67,531.3) rotate(-90)" font-size="6.75" text-anchor="end" fill="#0d0d0d">T1218-D2</text>
<line x1="619.89" x2="619.89" y1="525.85" y2="528.45" stroke="#303030" stroke-width="0.7"/>
<text transform="translate(622.14,531.3) rotate(-90)" font-size="6.75" text-anchor="end" fill="#0d0d0d">T1226-D1</text>
<line x1="628.36" x2="628.36" y1="525.85" y2="528.45" stroke="#303030" stroke-width="0.7"/>
<text transform="translate(630.61,531.3) rotate(-90)" font-size="6.75" text-anchor="end" fill="#0d0d0d">T1295-D1</text>
<line x1="636.83" x2="636.83" y1="525.85" y2="528.45" stroke="#303030" stroke-width="0.7"/>
<text transform="translate(639.08,531.3) rotate(-90)" font-size="6.75" text-anchor="end" fill="#0d0d0d">T1271s8-D1</text>
<line x1="645.30" x2="645.30" y1="525.85" y2="528.45" stroke="#303030" stroke-width="0.7"/>
<text transform="translate(647.55,531.3) rotate(-90)" font-size="6.75" text-anchor="end" fill="#0d0d0d">T1295-D2</text>
<line x1="653.77" x2="653.77" y1="525.85" y2="528.45" stroke="#303030" stroke-width="0.7"/>
<text transform="translate(656.02,531.3) rotate(-90)" font-size="6.75" text-anchor="end" fill="#0d0d0d">T1239-D4</text>
<line x1="662.24" x2="662.24" y1="525.85" y2="528.45" stroke="#303030" stroke-width="0.7"/>
<text transform="translate(664.49,531.3) rotate(-90)" font-size="6.75" text-anchor="end" fill="#0d0d0d">T1220s1-D1</text>
<line x1="670.71" x2="670.71" y1="525.85" y2="528.45" stroke="#303030" stroke-width="0.7"/>
<text transform="translate(672.96,531.3) rotate(-90)" font-size="6.75" text-anchor="end" fill="#0d0d0d">T1218-D3</text>
<line x1="679.18" x2="679.18" y1="525.85" y2="528.45" stroke="#303030" stroke-width="0.7"/>
<text transform="translate(681.43,531.3) rotate(-90)" font-size="6.75" text-anchor="end" fill="#0d0d0d">T1218-D1</text>
<text transform="translate(30.9,417) rotate(-90)" font-size="8.15" text-anchor="middle" fill="#0d0d0d">Z-score</text>
<text class="b" x="365.9" y="304.35" font-size="9.34" font-weight="bold" text-anchor="middle">Z-scores of GDT-TS for MULTICOM for the 75 domains</text>
<text class="b" x="0.6" y="304.7" font-size="10.3" font-weight="bold">(B)</text>
<rect x="619.5" y="311.2" width="62.1" height="28" rx="1.4" fill="#fff" fill-opacity="0.9" stroke="#cfcfcf" stroke-width="0.6"/>
<text class="l" x="650.5" y="318.9" font-size="6.5" text-anchor="middle" fill="#0d0d0d">Metrics</text>
<line x1="621.9" x2="634.4" y1="324.9" y2="324.9" stroke="#000" stroke-width="1.3" stroke-dasharray="4.4 1.4"/>
<text class="l" x="639.1" y="327.2" font-size="6" font-style="italic" fill="#0d0d0d">Average Z-score</text>
<rect x="622.2" y="331.4" width="11.9" height="4.1" fill="#ed6c8b" stroke="#000" stroke-width="0.7"/>
<text class="l" x="639.1" y="335.7" font-size="5.9" fill="#0d0d0d">MULTICOM</text>
</g>
</svg>
</body></html>
